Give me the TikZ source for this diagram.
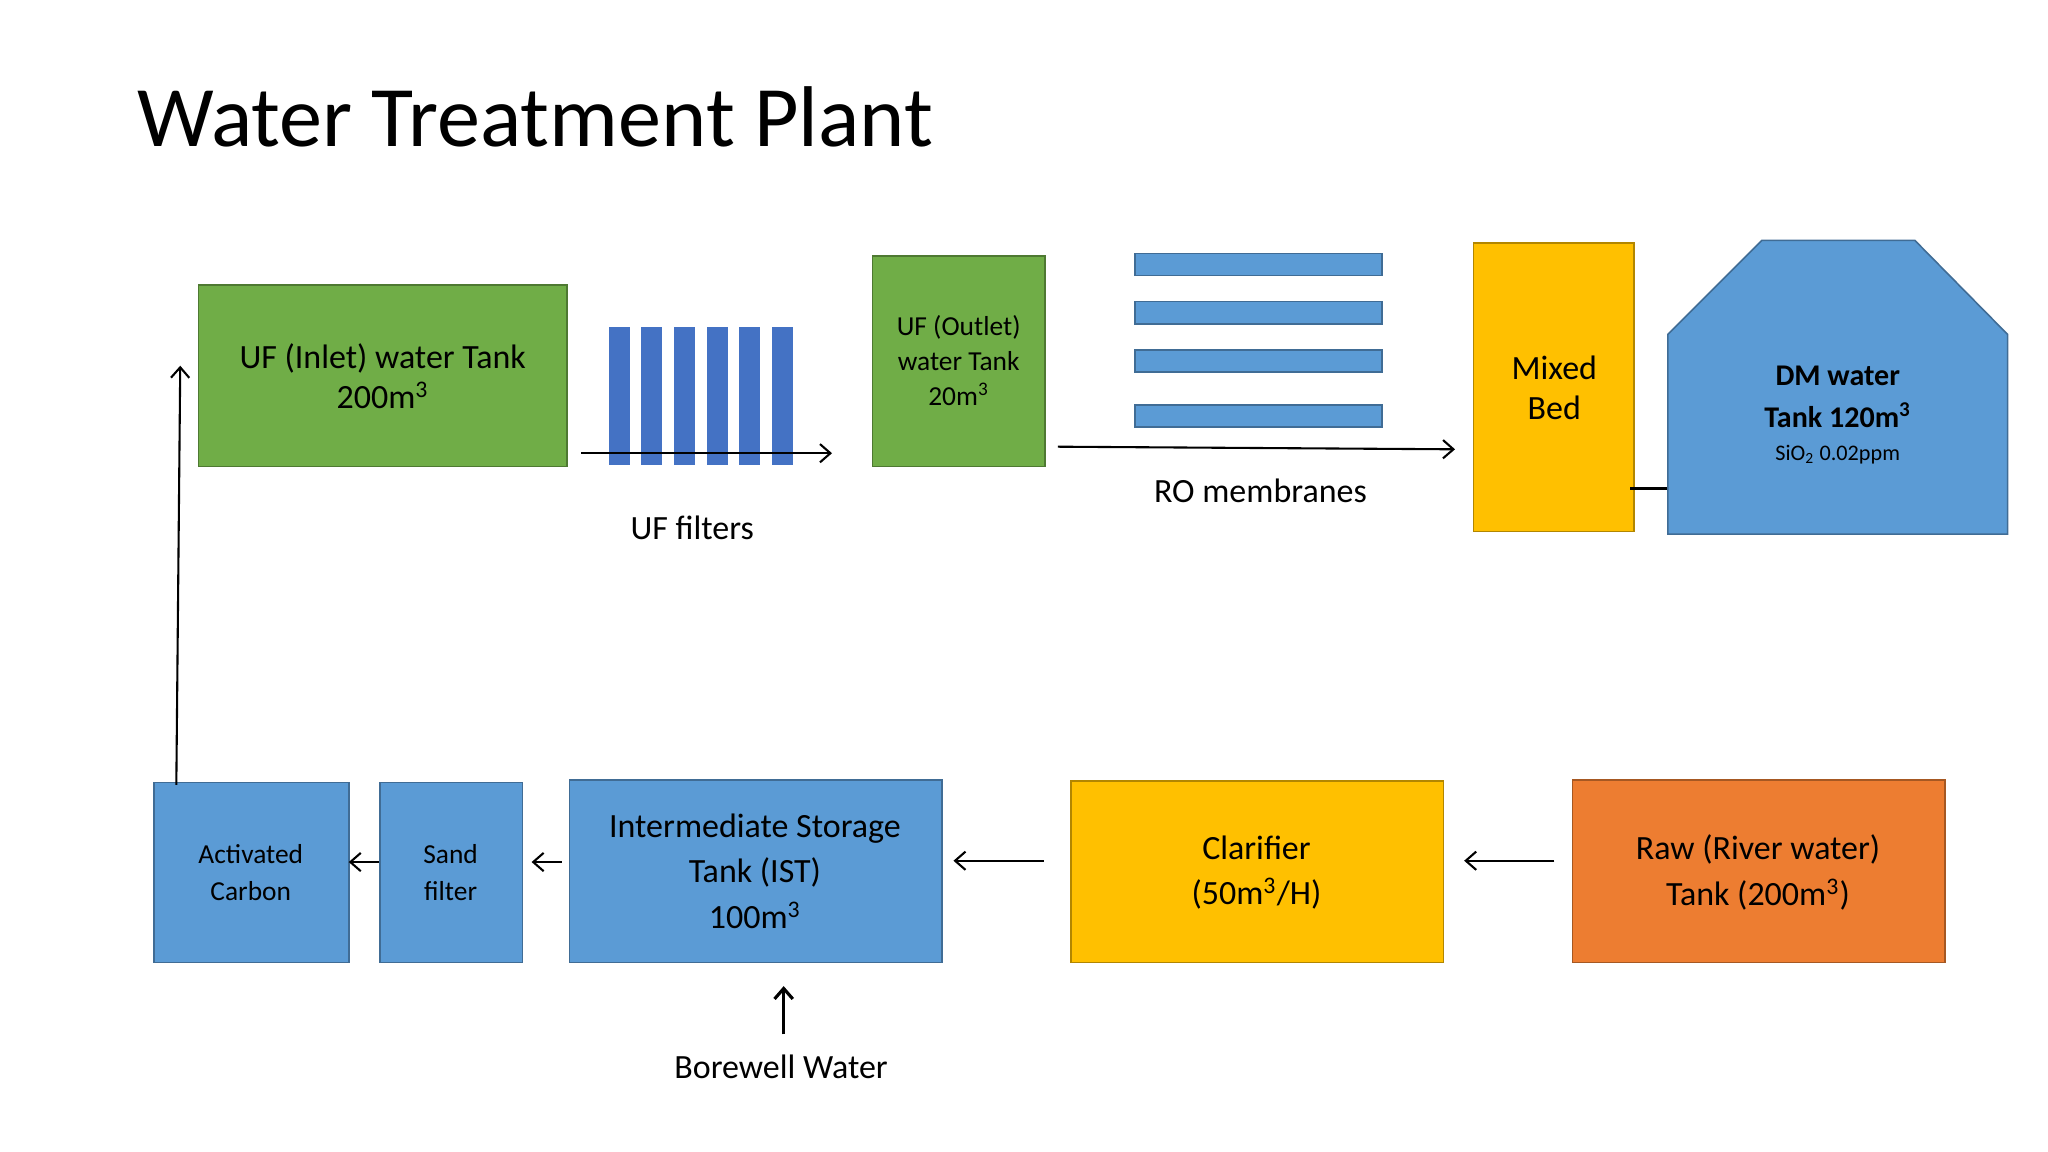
\documentclass[tikz,border=0pt]{standalone}
\usepackage{fontspec}
\setmainfont{Carlito}
\usetikzlibrary{arrows.meta}
\definecolor{grn}{RGB}{112,173,71}
\definecolor{blu}{RGB}{91,155,213}
\definecolor{dblu}{RGB}{68,114,196}
\definecolor{gld}{RGB}{255,192,0}
\definecolor{org}{RGB}{237,125,49}
\begin{document}
\begin{tikzpicture}[x=0.5pt,y=-0.5pt,
 box/.style={draw=#1!70!black,fill=#1,line width=0.6pt},
 arr/.style={-{Straight Barb[length=4pt,width=7pt]},line width=0.8pt},
 txt/.style={font=\fontsize{13}{15.5}\selectfont,align=center}]
\useasboundingbox (0,0) rectangle (1568,882);
\node[anchor=base west,font=\fontsize{33}{36}\selectfont] (title) at (98,112) {Water Treatment Plant};
% top
\draw[box=grn] (152,218) rectangle (434,357);
\node[txt] (ufin) at (293,288) {UF (Inlet) water Tank\\200m\textsuperscript{3}};
\foreach \i in {0,...,5} \fill[dblu] (466+\i*25,250) rectangle +(16,106);
\coordinate (fa) at (445,347); \coordinate (fb) at (637,347);
\draw[arr] (fa) -- (fb);
\node[txt] (uff) at (530,404) {UF filters};
\draw[box=grn] (668,196) rectangle (800,357);
\node[txt,font=\fontsize{10.5}{13.5}\selectfont] (ufout) at (734,276) {UF (Outlet)\\water Tank\\20m\textsuperscript{3}};
\foreach \y in {194,231,268,310} \draw[box=blu] (869,\y) rectangle (1058,\y+17);
\coordinate (ra) at (810,342); \coordinate (rb) at (1114,344);
\draw[arr] (ra) -- (rb);
\node[txt] (rom) at (965,376) {RO membranes};
\draw[box=gld] (1128,186) rectangle (1251,407);
\node[txt] (mb) at (1190,297) {Mixed\\Bed};
\coordinate (ma) at (1248,374); \coordinate (mbb) at (1290,374);
\draw[arr] (ma) -- (mbb);
\draw[box=blu] (1277,256) -- (1349,184) -- (1466,184) -- (1537,256) -- (1537,409) -- (1277,409) -- cycle;
\node[txt,font=\bfseries\fontsize{11.5}{16}\selectfont] (dm) at (1407,304) {DM water\\Tank 120m\textsuperscript{3}};
\node[font=\fontsize{8.5}{10}\selectfont] (sio) at (1407,348) {SiO\textsubscript{2} 0.02ppm};
% bottom
\draw[box=blu] (118,599) rectangle (267,737);
\node[txt,font=\fontsize{10.5}{14}\selectfont] (ac) at (192,668) {Activated\\Carbon};
\draw[box=blu] (291,599) rectangle (400,737);
\node[txt,font=\fontsize{10.5}{14}\selectfont] (sf) at (345,668) {Sand\\filter};
\draw[box=blu] (436,597) rectangle (721,737);
\node[txt,font=\fontsize{13}{17.5}\selectfont] (ist) at (578,667) {Intermediate Storage\\Tank (IST)\\100m\textsuperscript{3}};
\draw[box=gld] (820,598) rectangle (1105,737);
\node[txt,font=\fontsize{13}{17.5}\selectfont] (cl) at (962,668) {Clarifier\\(50m\textsuperscript{3}/H)};
\draw[box=org] (1204,597) rectangle (1489,737);
\node[txt,font=\fontsize{13}{17.5}\selectfont] (raw) at (1346,668) {Raw (River water)\\Tank (200m\textsuperscript{3})};
\coordinate (a1) at (290,660); \coordinate (a2) at (267,660);
\draw[arr] (a1) -- (a2);
\coordinate (b1) at (430,660); \coordinate (b2) at (407,660);
\draw[arr] (b1) -- (b2);
\coordinate (c1) at (799,659); \coordinate (c2) at (730,659);
\draw[arr] (c1) -- (c2);
\coordinate (d1) at (1190,659); \coordinate (d2) at (1121,659);
\draw[arr] (d1) -- (d2);
\coordinate (v1) at (135,601); \coordinate (v2) at (138,280);
\draw[arr] (v1) -- (v2);
\coordinate (w1) at (600,792); \coordinate (w2) at (600,755);
\draw[arr,line width=1.2pt] (w1) -- (w2);
\node[txt] (bw) at (598,817) {Borewell Water};
\end{tikzpicture}
\end{document}
